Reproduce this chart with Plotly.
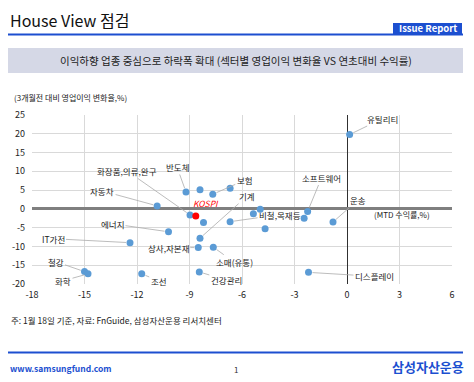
import plotly.graph_objects as go

# ---- data ----
sectors = ["유틸리티", "운송", "소프트웨어", "", "디스플레이", "", "", "", "비철,목재등",
           "자동차", "반도체", "", "보험", "", "화장품,의류,완구", "", "에너지",
           "기계", "상사,자본재", "소매(유통)", "건강관리", "조선", "IT가전", "철강", "화학"]
mtd_return = [0.15, -0.8, -2.25, -2.45, -2.2, -5.35, -4.96, -4.68, -6.68,
              -10.85, -9.2, -8.4, -7.67, -6.68, -8.97, -8.2, -10.2,
              -8.4, -8.5, -7.64, -8.44, -11.73, -12.4, -15.0, -14.8]
op_change = [19.8, -3.5, -0.7, -2.5, -16.9, -1.3, -0.1, -5.3, -3.4,
             0.8, 4.5, 5.1, 3.9, 5.5, -1.6, -3.6, -6.1,
             -7.8, -10.3, -10.2, -16.8, -17.3, -9.0, -16.7, -17.3]
kospi_x = [-8.64]
kospi_y = [-1.9]
x_ticks = [-18, -15, -12, -9, -6, -3, 0, 3, 6]
y_ticks = [25, 20, 15, 10, 5, 0, -5, -10, -15, -20]

# label offsets (pixels) from point to label centre
label_offsets = {
    "유틸리티": (33, -16), "운송": (25, -22), "소프트웨어": (14, -34),
    "디스플레이": (66, 4), "비철,목재등": (50, -7), "자동차": (-55, -15),
    "반도체": (-9, -25), "보험": (32, -14), "화장품,의류,완구": (-63, -44),
    "에너지": (-56, -8), "기계": (47, -42), "상사,자본재": (-30, 0),
    "소매(유통)": (21, 15), "건강관리": (27, 8), "조선": (17, 7),
    "IT가전": (-77, -4), "철강": (-29, -10), "화학": (-25, 7),
}

W, H = 474, 382
L, R, T, B = 32, 452, 115, 284
FONT = "Noto Sans CJK KR, Noto Sans, sans-serif"
BLUE = "#1C4FD0"


def px(x):
    return (x - L) / (R - L)


def py(y):
    return (B - y) / (B - T)


fig = go.Figure()
fig.add_trace(go.Scatter(x=mtd_return, y=op_change, mode="markers",
                         marker=dict(size=7, color="#5B9BD5"), hoverinfo="skip"))
fig.add_trace(go.Scatter(x=kospi_x, y=kospi_y, mode="markers",
                         marker=dict(size=7, color="#FF0000"), hoverinfo="skip"))

annotations = []
for name, xv, yv in zip(sectors, mtd_return, op_change):
    if not name:
        continue
    ax, ay = label_offsets[name]
    annotations.append(dict(x=xv, y=yv, xref="x", yref="y", text=name,
                            showarrow=True, arrowhead=0, arrowwidth=0.8,
                            arrowcolor="#ABABAB", ax=ax, ay=ay, standoff=4,
                            font=dict(family=FONT, size=8.5, color="#222222")))
annotations.append(dict(x=kospi_x[0], y=kospi_y[0], xref="x", yref="y",
                        text="<i>KOSPI</i>", showarrow=False, xshift=10, yshift=13,
                        font=dict(family=FONT, size=8.5, color="#FF0000")))

# header / footer texts
annotations += [
    dict(x=px(8), y=py(20), xref="paper", yref="paper", text="House View 점검",
         showarrow=False, xanchor="left", yanchor="middle",
         font=dict(family=FONT, size=16, color="#111111")),
    dict(x=px(427.5), y=py(28.5), xref="paper", yref="paper", text="<b>Issue Report</b>",
         showarrow=False, xanchor="center", yanchor="middle",
         font=dict(family=FONT, size=9.5, color="white")),
    dict(x=px(235.5), y=py(61), xref="paper", yref="paper",
         text="이익하향 업종 중심으로 하락폭 확대 (섹터별 영업이익 변화율 VS 연초대비 수익률)",
         showarrow=False, xanchor="center", yanchor="middle",
         font=dict(family=FONT, size=10.5, color="#222222")),
    dict(x=px(12), y=py(98), xref="paper", yref="paper", text="(3개월전 대비 영업이익 변화율,%)",
         showarrow=False, xanchor="left", yanchor="middle",
         font=dict(family=FONT, size=8, color="#222222")),
    dict(x=px(402), y=py(214), xref="paper", yref="paper", text="(MTD 수익률,%)",
         showarrow=False, xanchor="center", yanchor="middle",
         font=dict(family=FONT, size=8, color="#222222")),
    dict(x=px(9), y=py(320), xref="paper", yref="paper",
         text="주: 1월 18일 기준, 자료: FnGuide, 삼성자산운용 리서치센터",
         showarrow=False, xanchor="left", yanchor="middle",
         font=dict(family=FONT, size=8.5, color="#222222")),
    dict(x=px(8), y=py(368), xref="paper", yref="paper", text="<b>www.samsungfund.com</b>",
         showarrow=False, xanchor="left", yanchor="middle",
         font=dict(family=FONT, size=8.5, color=BLUE)),
    dict(x=px(236), y=py(369), xref="paper", yref="paper", text="1",
         showarrow=False, xanchor="center", yanchor="middle",
         font=dict(family=FONT, size=8, color="#333333")),
    dict(x=px(466), y=py(366), xref="paper", yref="paper", text="<b>삼성자산운용</b>",
         showarrow=False, xanchor="right", yanchor="middle",
         font=dict(family=FONT, size=13, color=BLUE)),
]

shapes = [
    dict(type="line", xref="paper", yref="paper", x0=px(8), x1=px(463), y0=py(34.5), y1=py(34.5),
         line=dict(color=BLUE, width=2)),
    dict(type="rect", xref="paper", yref="paper", x0=px(393), x1=px(462), y0=py(23), y1=py(34),
         fillcolor=BLUE, line=dict(width=0)),
    dict(type="rect", xref="paper", yref="paper", x0=px(8), x1=px(463), y0=py(48), y1=py(73),
         fillcolor="#D5D8E6", line=dict(width=0), layer="below"),
    dict(type="line", xref="paper", yref="paper", x0=px(8), x1=px(463), y0=py(352.5), y1=py(352.5),
         line=dict(color=BLUE, width=2)),
]

fig.update_layout(
    width=W, height=H, margin=dict(l=L, r=W - R, t=T, b=H - B),
    paper_bgcolor="white", plot_bgcolor="white", showlegend=False,
    font=dict(family=FONT, size=9, color="#222222"),
    annotations=annotations, shapes=shapes,
    xaxis=dict(range=[-18, 6], tickvals=x_ticks, ticktext=[str(v) for v in x_ticks],
               showgrid=True, gridcolor="#D9D9D9", gridwidth=1,
               zeroline=True, zerolinecolor="#303030", zerolinewidth=1,
               showline=False, ticks="", tickfont=dict(size=9), fixedrange=True,
               ticklabelstandoff=4),
    yaxis=dict(range=[-20, 25], tickvals=y_ticks, ticktext=[str(v) for v in y_ticks],
               showgrid=True, gridcolor="#D9D9D9", gridwidth=1,
               zeroline=True, zerolinecolor="#7F7F7F", zerolinewidth=2.5,
               showline=False, ticks="", tickfont=dict(size=9), fixedrange=True,
               ticklabelstandoff=6),
)

fig.write_html("out.html", config={"displayModeBar": False},
               post_script="document.body.style.margin='0';document.body.style.overflow='hidden';")
